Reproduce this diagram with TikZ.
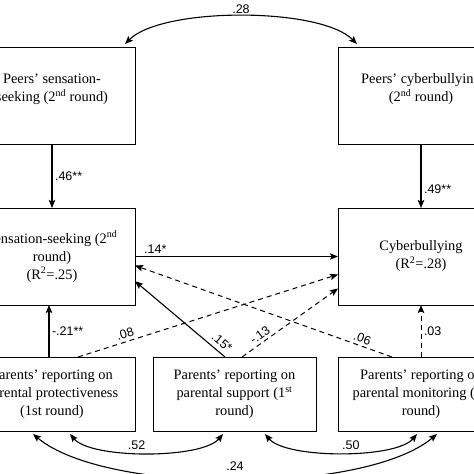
\documentclass[tikz,border=0pt]{standalone}
\usepackage{fontspec}
\setmainfont{Liberation Serif}
\setsansfont{Liberation Sans}
\usetikzlibrary{arrows.meta, positioning}

\begin{document}
\begin{tikzpicture}[
    x=1pt, y=1pt,
    block/.style={rectangle, draw, line width=0.9pt, minimum width=166pt, minimum height=97pt, align=center, inner sep=2pt, outer sep=0pt, font=\fontsize{14.4}{18}\selectfont},
    lowblock/.style={block, minimum height=74pt},
    arrow/.style={line width=1.1pt, -{Stealth[length=8pt, width=6.5pt, inset=1.5pt]}},
    dasharrow/.style={arrow, line width=1pt, dash pattern=on 5pt off 4pt},
    both/.style={line width=1.1pt, {Stealth[length=8pt, width=6.5pt, inset=1.5pt]}-{Stealth[length=8pt, width=6.5pt, inset=1.5pt]}},
    coef/.style={font=\sffamily\fontsize{12.5}{14}\selectfont, inner sep=2.5pt}
]
    \useasboundingbox (0,0) rectangle (474,-474);
    \fill[white] (0,0) rectangle (474,-474);
    \clip (0,0) rectangle (474,-474);

    \node (peerss) [block, text depth=16pt] at (52,-95.5) {Peers’ sensation-\\seeking (2\textsuperscript{nd} round)};
    \node (peercb) [block, text depth=16pt, right=203pt of peerss] {Peers’ cyberbullying\\(2\textsuperscript{nd} round)};
    \node (sens) [block, below=64pt of peerss] {Sensation-seeking (2\textsuperscript{nd}\\round)\\(R\textsuperscript{2}=.25)};
    \node (cyber) [block, right=203pt of sens] {Cyberbullying\\(R\textsuperscript{2}=.28)};
    \node (prot) [lowblock, below=52pt of sens] {Parents’ reporting on\\parental protectiveness\\(1st round)};
    \node (supp) [lowblock, minimum width=163pt, right=18pt of prot] {Parents’ reporting on\\parental support (1\textsuperscript{st}\\round)};
    \node (moni) [lowblock, right=22pt of supp] {Parents’ reporting on\\parental monitoring (1\textsuperscript{st}\\round)};

    \draw [both] ([xshift=73pt, yshift=3pt]peerss.north) to[out=45, in=135, looseness=0.58] node[coef, above] {.28} ([xshift=-64pt, yshift=3pt]peercb.north);
    \draw [arrow] (peerss) -- node[coef, right] {.46**} (sens);
    \draw [arrow] (peercb) -- node[coef, right, pos=0.7] {.49**} (cyber);
    \draw [arrow] (sens) -- node[coef, above, pos=0.1] {.14*} (cyber);
    \draw [arrow] ([xshift=-3pt]prot.north) -- node[coef, right] {-.21**} ([xshift=-3pt]sens.south);
    \draw [dasharrow] (moni) -- node[coef, right] {.03} (cyber);
    \draw [dasharrow] ([xshift=26pt]prot.north) -- node[coef, above, sloped, pos=0.19] {.08} ([yshift=-18pt]cyber.west);
    \draw [arrow] ([xshift=-9.5pt]supp.north) -- node[coef, above=2pt, sloped, pos=0.1] {.15*} ([yshift=-24.7pt]sens.east);
    \draw [dasharrow] ([xshift=7.5pt]supp.north) -- node[coef, above, sloped, pos=0.23] {-.13} ([yshift=-32pt]cyber.west);
    \draw [dasharrow] ([xshift=-29pt]moni.north) -- node[coef, above, sloped, pos=0.125] {.06} ([yshift=-9pt]sens.east);
    \draw [both] ([xshift=18pt, yshift=-3pt]prot.south) to[out=-50, in=-130, looseness=0.55] node[coef, above, pos=0.45] {.52} ([xshift=-11.5pt, yshift=-3pt]supp.south);
    \draw [both] ([xshift=30.5pt, yshift=-3pt]supp.south) to[out=-50, in=-130, looseness=0.55] node[coef, above, pos=0.55] {.50} ([xshift=-4pt, yshift=-3pt]moni.south);
    \draw [both] ([xshift=-19pt, yshift=-3pt]prot.south) to[out=-40, in=-140, looseness=0.6] node[coef, above=6pt] {.24} ([xshift=16pt, yshift=-3pt]moni.south);
\end{tikzpicture}
\end{document}
